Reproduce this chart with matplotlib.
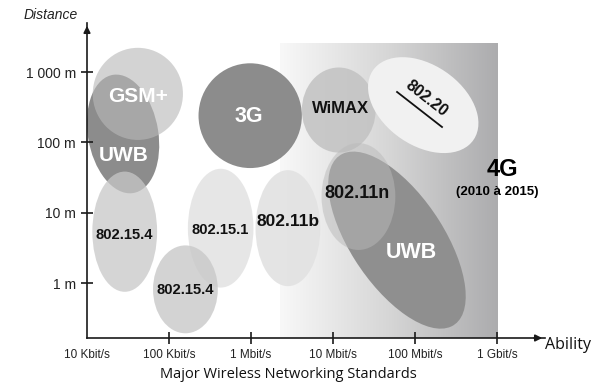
import numpy as np
import matplotlib.pyplot as plt
from matplotlib.patches import Ellipse
from matplotlib.colors import LinearSegmentedColormap

# data: log10(bit/s) for x, log10(metres) for y
rate_ticks = [4, 5, 6, 7, 8, 9]
rate_labels = ["10 Kbit/s", "100 Kbit/s", "1 Mbit/s", "10 Mbit/s", "100 Mbit/s", "1 Gbit/s"]
dist_ticks = [0, 1, 2, 3]
dist_labels = ["1 m", "10 m", "100 m", "1 000 m"]

names = ["802.11b", "802.15.1", "802.15.4", "UWB", "GSM+", "802.15.4",
         "3G", "WiMAX", "802.20", "UWB", "802.11n"]
rate_mid = [6.45, 5.63, 5.20, 4.44, 4.62, 4.46, 5.99, 7.07, 8.10, 7.78, 7.31]
dist_mid = [0.78, 0.78, -0.09, 2.12, 2.69, 0.73, 2.38, 2.46, 2.53, 0.61, 1.23]
rate_span = [0.79, 0.80, 0.79, 0.86, 1.10, 0.79, 1.26, 0.90, 1.59, 2.79, 0.90]
dist_span = [1.65, 1.69, 1.25, 1.70, 1.31, 1.71, 1.49, 1.21, 1.07, 1.17, 1.52]
tilt = [0, 0, 0, 7.6, 0, 0, 0, 0, -46, -61.7, 0]

label_x = [6.45, 5.63, 5.20, 4.45, 4.62, 4.46, 5.97, 7.09, 8.14, 7.95, 7.29]
label_y = [0.87, 0.75, -0.10, 1.82, 2.65, 0.68, 2.37, 2.48, 2.62, 0.43, 1.28]

zone_4g = (6.35, 9.0, 3.41)  # left, right, top of the 4G band

# styles
fills = ["#e2e2e2", "#e4e4e4", "#c9c9c9", "#8c8c8c", "#b9b9b9", "#c8c8c8",
         "#8c8c8c", "#c2c2c2", "#f1f1f1", "#8f8f8f", "#b9b9b9"]
alphas = [0.9, 0.9, 0.8, 1.0, 0.62, 0.75, 1.0, 0.85, 1.0, 1.0, 0.5]
txt_col = ["#111", "#111", "#111", "white", "white", "#111",
           "white", "#111", "#111", "white", "#111"]
txt_size = [12.5, 10.6, 10.6, 15, 15, 10.6, 15.5, 12, 11.5, 15.5, 13]

plt.rcParams["font.family"] = ["Liberation Sans", "DejaVu Sans"]

fig = plt.figure(figsize=(6, 3.87), dpi=100)
ax = fig.add_axes([87 / 600, 49 / 387, 458 / 600, 315 / 387])
ax.set_xlim(4, 9.585)
ax.set_ylim(-0.782, 3.698)

grad = LinearSegmentedColormap.from_list("g", ["#f8f8f8", "#d6d6d6", "#acacae"])
ax.imshow(np.linspace(0, 1, 256)[None, :], cmap=grad, aspect="auto",
          extent=[zone_4g[0], zone_4g[1], ax.get_ylim()[0], zone_4g[2]], zorder=0)

for i in range(len(names)):
    e = Ellipse((rate_mid[i], dist_mid[i]), rate_span[i], dist_span[i], angle=tilt[i],
                facecolor=fills[i], edgecolor="none", alpha=alphas[i], zorder=1 + i * 0.01)
    ax.add_patch(e)
    rot = -38 if names[i] == "802.20" else 0
    ax.text(label_x[i], label_y[i], names[i], color=txt_col[i], fontsize=txt_size[i],
            fontweight="bold", ha="center", va="center", rotation=rot, zorder=3)

# underline of 802.20
ux, uy = label_x[8] - 0.085, label_y[8] - 0.152
ax.plot([ux - 0.274, ux + 0.274], [uy + 0.249, uy - 0.249], color="#111", lw=1.3, zorder=3)

ax.text(9.06, 1.62, "4G", fontsize=17, fontweight="bold", ha="center", va="center")
ax.text(9.0, 1.30, "(2010 à 2015)", fontsize=9.5, fontweight="bold", ha="center", va="center")

for s in ["top", "right"]:
    ax.spines[s].set_visible(False)
for s in ["left", "bottom"]:
    ax.spines[s].set_linewidth(1.2)
    ax.spines[s].set_color("#1a1a1a")
ax.annotate("", xy=(1, 0), xytext=(0.97, 0), xycoords="axes fraction",
            arrowprops=dict(arrowstyle="-|>", color="#1a1a1a", lw=1.2, mutation_scale=10))
ax.annotate("", xy=(0, 1), xytext=(0, 0.96), xycoords="axes fraction",
            arrowprops=dict(arrowstyle="-|>", color="#1a1a1a", lw=1.2, mutation_scale=10))

ax.set_xticks(rate_ticks, rate_labels, fontsize=8.5, color="#222")
ax.set_yticks(dist_ticks, dist_labels, fontsize=10, color="#222")
ax.tick_params(direction="inout", length=8, width=1.2, color="#1a1a1a", pad=4)
ax.xaxis.get_major_ticks()[0].tick1line.set_visible(False)

fig.text(51 / 600, 1 - 15 / 387, "Distance", fontsize=10, style="italic",
         ha="center", va="center", color="#222")
fig.text(568 / 600, 1 - 345 / 387, "Ability", fontsize=11.5, family="Open Sans",
         ha="center", va="center", color="#111")
fig.text(288 / 600, 1 - 375 / 387, "Major Wireless Networking Standards", fontsize=10.5,
         family="Open Sans", ha="center", va="center", color="#111")

fig.savefig("out.png", dpi=100)
